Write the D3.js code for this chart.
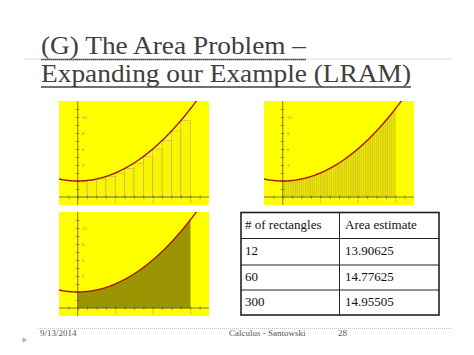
<!DOCTYPE html>
<html>
<head>
<meta charset="utf-8">
<script src="https://cdn.jsdelivr.net/npm/d3@7"></script>
<style>
  body { margin: 0; background: #fff; }
</style>
</head>
<body>
<script>
// data
var titleLines = ["(G) The Area Problem \u2013", "Expanding our Example (LRAM)"];
var rectCounts = [12, 60, 300];
var tableHead = ["# of rectangles", "Area estimate"];
var areaEstimates = ["13.90625", "14.77625", "14.95505"];
var footer = ["9/13/2014", "Calculus - Santowski", "28"];
var xTicks = [-0.25, 0, 0.25, 0.5, 0.75, 1, 1.25, 1.5, 1.75, 2, 2.25, 2.5, 2.75, 3, 3.25];
var yTicks = [1, 2, 3, 4, 5, 6, 7, 8, 9, 10, 11];
var interval = [0, 3];

// function under study, f(x) = x^2 + 2
function f(x) { return x * x + 2; }

var W = 474, H = 355;
var svg = d3.select("body").append("svg")
  .attr("width", W)
  .attr("height", H);

svg.append("rect").attr("width", W).attr("height", H).attr("fill", "#fff");

// title
var title = svg.append("g").attr("font-family", "Liberation Serif").attr("fill", "#404040");
var titleW = [265, 370];
titleLines.forEach(function(t, i) {
  var base = 54 + i * 27.5;
  title.append("text")
    .attr("x", 41)
    .attr("y", base)
    .attr("font-size", 25)
    .attr("textLength", titleW[i])
    .attr("lengthAdjust", "spacingAndGlyphs")
    .text(t);
  title.append("line")
    .attr("x1", 41).attr("x2", 41 + titleW[i])
    .attr("y1", base + 5.5).attr("y2", base + 5.5)
    .attr("stroke", "#404040").attr("stroke-width", 1.3);
});

// dotted separators
svg.append("line")
  .attr("x1", 24).attr("x2", 451).attr("y1", 59).attr("y2", 59)
  .attr("stroke", "#c4c4c4").attr("stroke-width", 1).attr("stroke-dasharray", "1,1");
svg.append("line")
  .attr("x1", 38).attr("x2", 451).attr("y1", 328.5).attr("y2", 328.5)
  .attr("stroke", "#c4c4c4").attr("stroke-width", 1).attr("stroke-dasharray", "1,1");

// panels
var pw = 150, ph = 104;
var panels = [
  {x: 59, y: 101, fill: "#fbf600", stroke: "#b4b070", sw: 0.6, op: 1},
  {x: 264, y: 101, fill: "#eee600", stroke: "#b8b030", sw: 0.5, op: 0.7},
  {x: 59, y: 212, fill: "#a8a000", stroke: "#8a8400", sw: 0.35, op: 0.8}
];

var xScale = d3.scaleLinear().domain([-0.5, 3.5]).range([0, pw]);
var yScale = d3.scaleLinear().domain([-1, 12]).range([ph, 0]);

var line = d3.line()
  .x(function(d) { return xScale(d); })
  .y(function(d) { return yScale(f(d)); })
  .curve(d3.curveLinear);

var samples = d3.range(-0.5, 3.5001, 0.02);

panels.forEach(function(p, k) {
  var n = rectCounts[k];
  var dx = (interval[1] - interval[0]) / n;
  var lefts = d3.range(n).map(function(i) { return interval[0] + i * dx; });

  var g = svg.append("g").attr("transform", "translate(" + p.x + "," + p.y + ")");
  g.append("clipPath").attr("id", "clip" + k)
    .append("rect").attr("width", pw).attr("height", ph);
  g.append("rect").attr("width", pw).attr("height", ph).attr("fill", "#ffff00");

  var body = g.append("g").attr("clip-path", "url(#clip" + k + ")");

  // LRAM rectangles
  body.append("g").selectAll("rect")
    .data(lefts)
    .enter()
    .append("rect")
    .attr("x", function(d) { return xScale(d); })
    .attr("y", function(d) { return yScale(f(d)); })
    .attr("width", xScale(dx) - xScale(0))
    .attr("height", function(d) { return yScale(0) - yScale(f(d)); })
    .attr("fill", p.fill)
    .attr("stroke", p.stroke)
    .attr("stroke-opacity", p.op)
    .attr("stroke-width", p.sw);

  // axes
  var xAxis = d3.axisBottom(xScale).tickValues(xTicks).tickSizeInner(2).tickSizeOuter(0).tickFormat("");
  var yAxis = d3.axisLeft(yScale).tickValues(yTicks).tickSizeInner(2).tickSizeOuter(0).tickFormat("");
  var ax = body.append("g").attr("transform", "translate(0," + yScale(0) + ")").call(xAxis);
  var ay = body.append("g").attr("transform", "translate(" + xScale(0) + ",0)").call(yAxis);
  [ax, ay].forEach(function(a) {
    a.select(".domain").attr("stroke", "#5a5a40").attr("stroke-width", 0.8);
    a.selectAll(".tick line").attr("stroke", "#5a5a40").attr("stroke-width", 0.6);
  });
  ax.select(".domain").attr("d", "M0,0H" + pw);
  ay.select(".domain").attr("d", "M0,0V" + ph);
  ax.selectAll(".tick line").attr("y1", -1.5);
  ay.selectAll(".tick line").attr("x1", 1.5);

  // faint tick labels
  body.append("g").selectAll("text")
    .data([1, 2, 3])
    .enter().append("text")
    .attr("x", function(d) { return xScale(d); })
    .attr("y", yScale(0) + 6)
    .attr("text-anchor", "middle")
    .attr("font-size", 4)
    .attr("font-family", "DejaVu Sans")
    .attr("fill", "#a0a070")
    .text(function(d) { return d; });
  body.append("g").selectAll("text")
    .data([2, 4, 6, 8, 10])
    .enter().append("text")
    .attr("x", xScale(0) + 4)
    .attr("y", function(d) { return yScale(d) + 1.5; })
    .attr("font-size", 4)
    .attr("font-family", "DejaVu Sans")
    .attr("fill", "#a0a070")
    .text(function(d) { return d; });

  // curve
  body.append("path")
    .datum(samples)
    .attr("d", line)
    .attr("fill", "none")
    .attr("stroke", "#a81800")
    .attr("stroke-width", 1.4);
});

// table
var tx = 241, tw = 198, colX = 339.5;
var rowY = [212.5, 238.5, 265, 290, 315];
var tbl = svg.append("g").attr("font-family", "Liberation Serif").attr("font-size", 13).attr("fill", "#111");
var rows = [tableHead].concat(rectCounts.map(function(c, i) { return [String(c), areaEstimates[i]]; }));

rowY.slice(1, 4).forEach(function(y) {
  tbl.append("line").attr("x1", tx).attr("x2", tx + tw).attr("y1", y).attr("y2", y)
    .attr("stroke", "#222").attr("stroke-width", 1);
});
tbl.append("line").attr("x1", colX).attr("x2", colX).attr("y1", rowY[0]).attr("y2", rowY[4])
  .attr("stroke", "#222").attr("stroke-width", 1);
tbl.append("rect")
  .attr("x", tx).attr("y", rowY[0]).attr("width", tw).attr("height", rowY[4] - rowY[0])
  .attr("fill", "none").attr("stroke", "#222").attr("stroke-width", 1.6);

rows.forEach(function(r, i) {
  var base = rowY[i] + 16;
  tbl.append("text").attr("x", 245).attr("y", base).text(r[0]);
  tbl.append("text").attr("x", 345).attr("y", base).text(r[1]);
});

// footer
var foot = svg.append("g").attr("font-family", "Liberation Serif").attr("font-size", 9).attr("fill", "#555");
foot.append("text").attr("x", 40).attr("y", 335.5).text(footer[0]);
foot.append("text").attr("x", 229).attr("y", 335.5).text(footer[1]);
foot.append("text").attr("x", 338).attr("y", 335.5).text(footer[2]);
svg.append("path")
  .attr("d", "M22.5,337L27,340L22.5,343Z")
  .attr("fill", "#a8b8cc");
</script>
</body>
</html>
